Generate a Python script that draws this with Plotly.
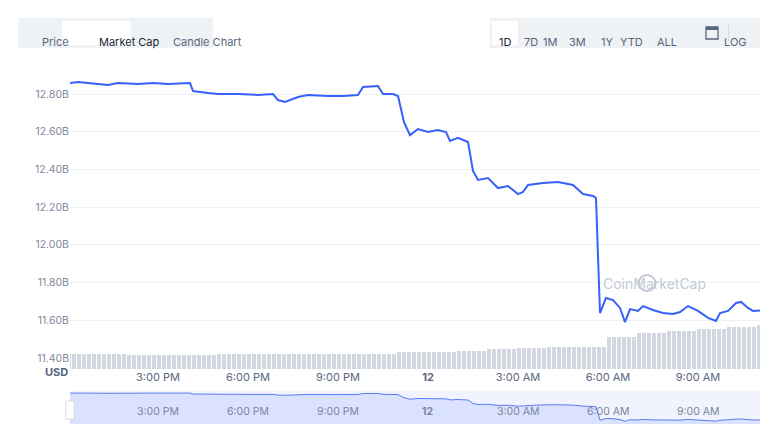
import plotly.graph_objects as go
import pandas as pd

times = ["2023-01-11 12:04","2023-01-11 12:20","2023-01-11 13:00","2023-01-11 13:20","2023-01-11 13:40","2023-01-11 14:20","2023-01-11 14:50","2023-01-11 15:20","2023-01-11 16:04","2023-01-11 16:10","2023-01-11 16:40","2023-01-11 17:00","2023-01-11 17:40","2023-01-11 18:20","2023-01-11 18:50","2023-01-11 19:00","2023-01-11 19:14","2023-01-11 19:40","2023-01-11 20:00","2023-01-11 20:40","2023-01-11 21:10","2023-01-11 21:40","2023-01-11 21:50","2023-01-11 22:20","2023-01-11 22:30","2023-01-11 22:50","2023-01-11 23:00","2023-01-11 23:12","2023-01-11 23:24","2023-01-11 23:40","2023-01-12 00:00","2023-01-12 00:20","2023-01-12 00:36","2023-01-12 00:44","2023-01-12 01:00","2023-01-12 01:20","2023-01-12 01:30","2023-01-12 01:40","2023-01-12 02:00","2023-01-12 02:20","2023-01-12 02:40","2023-01-12 03:00","2023-01-12 03:10","2023-01-12 03:20","2023-01-12 03:50","2023-01-12 04:20","2023-01-12 04:50","2023-01-12 05:10","2023-01-12 05:30","2023-01-12 05:36","2023-01-12 05:44","2023-01-12 05:56","2023-01-12 06:10","2023-01-12 06:24","2023-01-12 06:34","2023-01-12 06:44","2023-01-12 07:00","2023-01-12 07:10","2023-01-12 07:30","2023-01-12 07:50","2023-01-12 08:10","2023-01-12 08:24","2023-01-12 08:40","2023-01-12 09:00","2023-01-12 09:20","2023-01-12 09:36","2023-01-12 09:44","2023-01-12 10:00","2023-01-12 10:16","2023-01-12 10:26","2023-01-12 10:40","2023-01-12 10:50","2023-01-12 11:14"]
market_cap_b = [12.858,12.864,12.853,12.848,12.858,12.853,12.858,12.853,12.858,12.816,12.805,12.800,12.800,12.795,12.800,12.768,12.758,12.784,12.795,12.789,12.789,12.795,12.837,12.842,12.800,12.800,12.789,12.651,12.582,12.614,12.598,12.609,12.598,12.551,12.567,12.545,12.392,12.344,12.354,12.301,12.312,12.269,12.280,12.317,12.328,12.333,12.317,12.269,12.259,12.248,11.638,11.718,11.707,11.665,11.590,11.659,11.649,11.675,11.654,11.638,11.633,11.643,11.675,11.649,11.612,11.596,11.638,11.649,11.691,11.697,11.665,11.649,11.654]

vol_hours = ["2023-01-11 12:00","2023-01-11 13:00","2023-01-11 14:00","2023-01-11 15:00","2023-01-11 16:00","2023-01-11 17:00","2023-01-11 18:00","2023-01-11 19:00","2023-01-11 20:00","2023-01-11 21:00","2023-01-11 22:00","2023-01-11 23:00","2023-01-12 00:00","2023-01-12 01:00","2023-01-12 02:00","2023-01-12 03:00","2023-01-12 04:00","2023-01-12 05:00","2023-01-12 06:00","2023-01-12 07:00","2023-01-12 08:00","2023-01-12 09:00","2023-01-12 10:00","2023-01-12 11:00"]
vol_hourly = [150,150,145,145,145,148,148,148,148,148,150,170,175,180,205,215,220,225,320,360,380,400,420,440]

vx, vy = [], []
for h, v in zip(vol_hours, vol_hourly):
    base = pd.Timestamp(h)
    for k in range(12):
        t = base + pd.Timedelta(minutes=5 * k)
        if t <= pd.Timestamp("2023-01-12 11:14"):
            vx.append(t); vy.append(v)

BLUE = "#3861fb"
fig = go.Figure()
fig.add_trace(go.Bar(x=vx, y=vy, yaxis="y2", marker=dict(color="#d3d7df", line=dict(width=0)), width=2.6*60*1000, hoverinfo="skip"))
fig.add_trace(go.Scatter(x=times, y=market_cap_b, mode="lines", line=dict(color=BLUE, width=2)))
fig.add_trace(go.Scatter(x=times, y=market_cap_b, xaxis="x2", yaxis="y3", mode="lines", line=dict(color="#5b7cf5", width=1), fill="tozeroy", fillcolor="rgba(56,97,251,0.12)"))

xr = ["2023-01-11 12:04", "2023-01-12 11:14"]
tickvals = ["2023-01-11 15:00","2023-01-11 18:00","2023-01-11 21:00","2023-01-12 00:00","2023-01-12 03:00","2023-01-12 06:00","2023-01-12 09:00"]
ticktext = ["3:00 PM","6:00 PM","9:00 PM","<b>12</b>","3:00 AM","6:00 AM","9:00 AM"]
gray = "#808a9d"
fig.update_layout(
    width=768, height=424, margin=dict(l=62, r=11, t=60, b=2, autoexpand=False),
    paper_bgcolor="white", plot_bgcolor="white", showlegend=False, bargap=0,
    font=dict(family="Inter", size=11, color=gray),
    xaxis=dict(domain=[0, 1], range=xr, tickvals=tickvals, ticktext=ticktext, showgrid=False, zeroline=False, showline=False, ticks="", anchor="y", automargin=False, tickfont=dict(size=11, color="#58667e")),
    yaxis=dict(domain=[0.1685, 1], range=[11.341, 12.938], tickvals=[11.4,11.6,11.8,12.0,12.2,12.4,12.6,12.8], ticktext=["11.40B","11.60B","11.80B","12.00B","12.20B","12.40B","12.60B","12.80B"], gridcolor="#eff2f5", zeroline=False, automargin=False, tickfont=dict(size=10.5, color=gray)),
    yaxis2=dict(domain=[0.1685, 1], overlaying="y", range=[0, 3010], visible=False),
    xaxis2=dict(domain=[0, 1], range=xr, anchor="y3", showticklabels=False, showgrid=False, zeroline=False, automargin=False),
    yaxis3=dict(domain=[0, 0.1077], range=[11.2, 12.95], visible=False),
)
fig.add_shape(type="rect", xref="paper", yref="paper", x0=0, x1=1, y0=0, y1=0.1077, fillcolor="rgba(56,97,251,0.07)", line=dict(width=0), layer="below")
for tv, tt in zip(tickvals, ticktext):
    fig.add_annotation(x=tv, y=0.028, xref="x2", yref="paper", text=tt, showarrow=False, font=dict(size=10.5, color="#7a869c"))
for px in [62, 757]:
    xp = (px - 62) / 695
    fig.add_shape(type="rect", xref="paper", yref="paper", x0=xp - 0.006, x1=xp + 0.006, y0=0.03, y1=0.08, fillcolor="white", line=dict(color="#d5d9e0", width=1))
fig.add_annotation(x=(35-62)/695, y=(422-373)/362, xref="paper", yref="paper", text="<b>USD</b>", showarrow=False, font=dict(size=11, color="#58667e"))

def P(px, py):
    return (px - 62) / 695, (422 - py) / 362

def rect(x0, y0, x1, y1, color, line=None):
    a, b = P(x0, y1); c, d = P(x1, y0)
    fig.add_shape(type="rect", xref="paper", yref="paper", x0=a, y0=b, x1=c, y1=d, fillcolor=color, line=line or dict(width=0))

rect(10, 10, 205, 40, "#eff2f5")
rect(54, 13, 123, 37, "white")
rect(482, 10, 757, 40, "#eff2f5")
rect(484, 13, 510, 37, "white")
for txt, px in [("Price", 32), ("Market Cap", 89), ("Candle Chart", 163), ("1D", 497), ("7D", 523), ("1M", 551), ("3M", 580), ("1Y", 607), ("YTD", 637), ("ALL", 671), ("LOG", 741)]:
    x, y = P(px, 25)
    fig.add_annotation(x=x, y=y, xref="paper", yref="paper", text=txt, showarrow=False, font=dict(size=11, color="#222531" if txt in ("Market Cap", "1D") else "#58667e"))
rect(698, 19, 710, 31, "rgba(0,0,0,0)", dict(color="#58667e", width=1.3))
rect(698, 19, 710, 22, "#58667e")
rect(720, 17, 721, 33, "#d5d9e0")
x, y = P(639, 275)
fig.add_shape(type="circle", xref="paper", yref="paper", x0=x-0.012, x1=x+0.012, y0=y-0.022, y1=y+0.022, line=dict(color="#c3c9d4", width=2))
x, y = P(700, 275)
fig.add_annotation(x=x, y=y, xref="paper", yref="paper", text="CoinMarketCap", showarrow=False, font=dict(size=14, color="#c3c9d4"))
fig.write_html("out.html")
